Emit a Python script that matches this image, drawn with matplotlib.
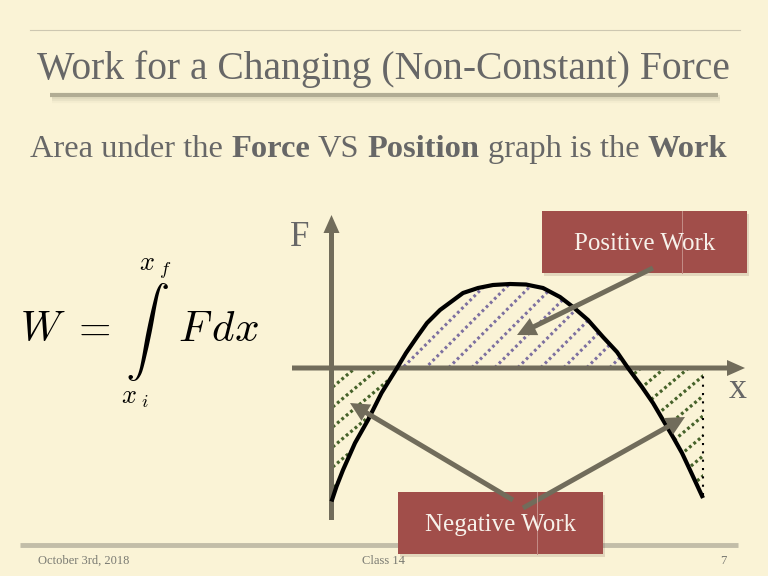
import matplotlib.pyplot as plt
from matplotlib.patches import Polygon, Rectangle

plt.rcParams['font.family'] = 'Liberation Serif'
plt.rcParams['mathtext.fontset'] = 'cm'

# slide text
title = 'Work for a Changing (Non-Constant) Force'
subtitle = [('Area under the', 'normal'), ('Force', 'bold'), ('VS', 'normal'),
            ('Position', 'bold'), ('graph is the', 'normal'), ('Work', 'bold')]
footer = ['October 3rd, 2018', 'Class 14', '7']
box_labels = ['Positive Work', 'Negative Work']

# force curve (x, F) in graph units
curve_x = [0.0, 0.10, 0.23, 0.47, 0.73, 1.00, 1.31, 1.49, 1.71, 1.91, 2.17, 2.40,
           2.63, 2.93, 3.23, 3.57, 3.89, 4.23, 4.57, 4.83, 5.13, 5.43, 5.71,
           5.93, 6.21, 6.43, 6.63, 6.83, 7.01, 7.17, 7.43]
curve_F = [-2.67, -2.37, -2.04, -1.50, -1.04, -0.50, 0.0, 0.30, 0.62, 0.90, 1.16, 1.33,
           1.50, 1.60, 1.66, 1.68, 1.67, 1.60, 1.42, 1.22, 0.96, 0.62, 0.32,
           0.0, -0.38, -0.70, -1.04, -1.38, -1.70, -2.04, -2.60]
root_left, root_right = 1.31, 5.93
x_end = 7.43

bg_col = '#faf3d6'
text_col = '#676767'
axis_col = '#716c5b'
box_col = '#a14e4a'

fig = plt.figure(figsize=(7.68, 5.76), dpi=100, facecolor=bg_col)

# background layer in pixel coordinates
bg = fig.add_axes([0, 0, 1, 1], zorder=0)
bg.set_xlim(0, 768)
bg.set_ylim(576, 0)
bg.axis('off')
bg.set_facecolor(bg_col)

bg.plot([30, 740], [30, 30], color='#cdc7b1', lw=0.8)
for k, a in enumerate([0.10, 0.07, 0.04]):
    bg.plot([52, 720], [97 + 2 * k, 97 + 2 * k], color='#6b6650', lw=3, alpha=a,
            solid_capstyle='butt')
bg.plot([50, 718], [95, 95], color='#b1ac94', lw=3, solid_capstyle='butt')
bg.plot([20, 738], [545, 545], color='#c2bda8', lw=3.5, solid_capstyle='butt')

bg.text(383, 79, title, ha='center', va='baseline', fontsize=28.5, color=text_col)

renderer = fig.canvas.get_renderer()
t1 = bg.text(0, 300, 'x x', fontsize=23.4)
t2 = bg.text(0, 300, 'xx', fontsize=23.4)
sp = t1.get_window_extent(renderer).width - t2.get_window_extent(renderer).width
t1.remove()
t2.remove()
x = 30
for s, w in subtitle:
    t = bg.text(x, 157, s, fontsize=23.4, fontweight=w, color=text_col, va='baseline')
    x += t.get_window_extent(renderer).width + sp

bg.text(38, 564, footer[0], fontsize=9, color='#7a7a72', va='baseline')
bg.text(362, 564, footer[1], fontsize=9, color='#7a7a72', va='baseline')
bg.text(720, 564, footer[2], fontsize=9, color='#7a7a72', va='baseline')

# equation
bg.text(20, 341, r'$W\ =$', fontsize=30, color='black', va='baseline')
bg.text(125, 347, r'$\int$', fontsize=32, color='black', va='baseline')
bg.text(178, 341, r'$F\,dx$', fontsize=31, color='black', va='baseline')
bg.text(139, 271, r'$x_{\ f}$', fontsize=19, color='black', va='baseline')
bg.text(121, 404, r'$x_{\ i}$', fontsize=19, color='black', va='baseline')

# graph
ax = fig.add_axes([280 / 768, 46 / 576, 480 / 768, 330 / 576], zorder=1)
ax.set_xlim(-1.03, 8.57)
ax.set_ylim(-3.24, 3.36)
ax.axis('off')
ax.patch.set_alpha(0)


def hatch(points, color, step, slope, lw, pattern):
    poly = Polygon(points, closed=True, fc='none', ec='none')
    ax.add_patch(poly)
    c = -12.0
    while c < 12.0:
        ln, = ax.plot([-2, 10], [slope * (-2) + c, slope * 10 + c], color=color, lw=lw,
                      linestyle=(0, pattern), dash_capstyle='butt', zorder=2)
        ln.set_clip_path(poly)
        c += step


pos_pts = [(px, pf) for px, pf in zip(curve_x, curve_F) if root_left <= px <= root_right]
left_pts = [(0, 0)] + [(px, pf) for px, pf in zip(curve_x, curve_F) if px <= root_left]
right_pts = [(px, pf) for px, pf in zip(curve_x, curve_F) if px >= root_right] + [(x_end, 0)]

hatch(pos_pts, '#7d70a0', 0.46, 1.0, 2.2, (0.9, 1.0))
hatch(left_pts, '#46622a', 0.40, 0.84, 2.3, (0.9, 0.9))
hatch(right_pts, '#46622a', 0.40, 0.84, 2.3, (0.9, 0.9))
ax.plot([x_end, x_end], [0, curve_F[-1]], color='black', lw=1.5,
        linestyle=(0, (1, 3)), zorder=2)

ax.arrow(0, -3.04, 0, 6.10, width=0.1, head_width=0.32, head_length=0.36,
         length_includes_head=True, color=axis_col, lw=0, zorder=3)
ax.arrow(-0.79, 0, 9.06, 0, width=0.1, head_width=0.32, head_length=0.36,
         length_includes_head=True, color=axis_col, lw=0, zorder=3)
ax.plot(curve_x, curve_F, color='black', lw=3, zorder=4, solid_capstyle='butt')

bg.text(300, 246, 'F', fontsize=25, color=text_col, ha='center', va='baseline')
bg.text(738, 398, 'x', fontsize=26, color=text_col, ha='center', va='baseline')

# labels and arrows on top
top = fig.add_axes([0, 0, 1, 1], zorder=2)
top.set_xlim(0, 768)
top.set_ylim(576, 0)
top.axis('off')
top.patch.set_alpha(0)

for (bx, by), lbl, seam in [((542, 211), box_labels[0], 682), ((398, 492), box_labels[1], 537)]:
    top.add_patch(Rectangle((bx + 2, by + 3), 205, 62, fc='#5a3a30', alpha=0.15, lw=0))
    top.add_patch(Rectangle((bx, by), 205, 62, fc=box_col, lw=0))
    top.plot([seam, seam], [by, by + 62], color='#c48d87', lw=0.7)
    top.text(bx + 102.5, by + 39, lbl, fontsize=18, color='#f7f1ea', ha='center',
             va='baseline')

for (x0, y0), (x1, y1) in [((653, 268), (517, 335)), ((513, 500), (350, 403)),
                           ((523, 508), (685, 417))]:
    top.arrow(x0, y0, x1 - x0, y1 - y0, width=5, head_width=19, head_length=19,
              length_includes_head=True, color=axis_col, lw=0)

fig.savefig('out.png', dpi=100, facecolor=bg_col)
